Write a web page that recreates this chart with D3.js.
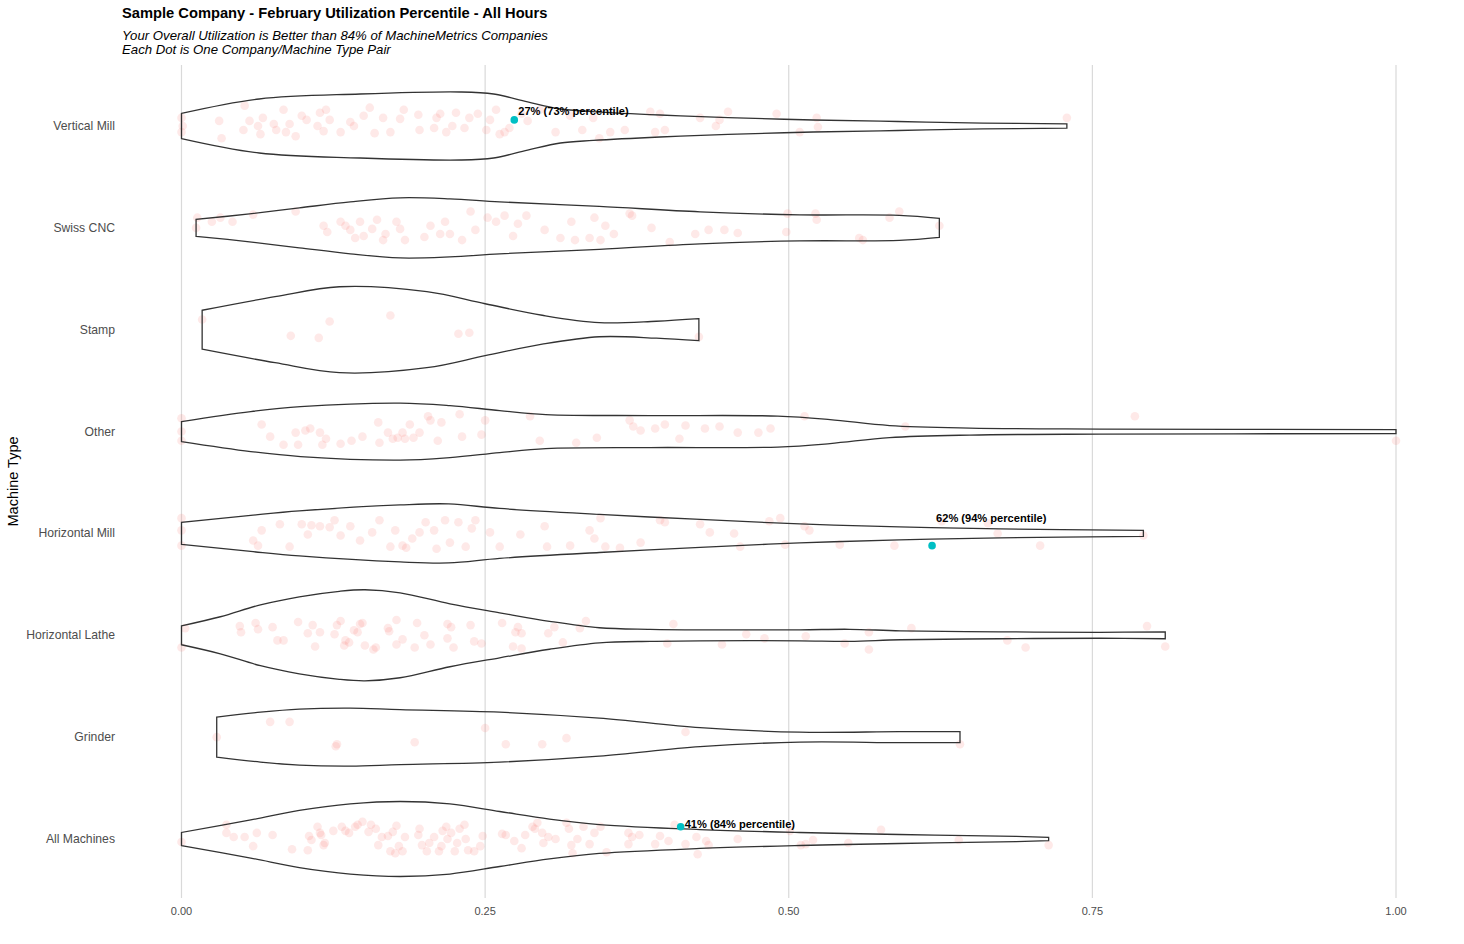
<!DOCTYPE html>
<html>
<head>
<meta charset="utf-8">
<script src="https://cdn.jsdelivr.net/npm/d3@7"></script>
<style>
  html, body { margin: 0; padding: 0; background: #ffffff; }
  svg { display: block; font-family: "Liberation Sans", Arial, sans-serif; }
</style>
</head>
<body>
<svg id="chart" width="1464" height="944"></svg>
<script>
// ---------------- DATA ----------------
const categories = ["Vertical Mill", "Swiss CNC", "Stamp", "Other", "Horizontal Mill", "Horizontal Lathe", "Grinder", "All Machines"];
const xTicks = [0, 0.25, 0.5, 0.75, 1.0];
const xTickLabels = ["0.00", "0.25", "0.50", "0.75", "1.00"];

const titleText = "Sample Company - February Utilization Percentile - All Hours";
const subtitleLines = ["Your Overall Utilization is Better than 84% of MachineMetrics Companies", "Each Dot is One Company/Machine Type Pair"];
const yAxisTitle = "Machine Type";

// violin outlines: utilization grid and half-width (fraction of category spacing)
const vmGrid  = [0, 0.064, 0.147, 0.23, 0.257, 0.285, 0.312, 0.339, 0.394, 0.45, 0.52, 0.59, 0.66, 0.729];
const vmWidth = [0.123, 0.265, 0.314, 0.334, 0.314, 0.236, 0.167, 0.142, 0.108, 0.083, 0.059, 0.044, 0.029, 0.020];
const swGrid  = [0.012, 0.056, 0.097, 0.139, 0.180, 0.221, 0.262, 0.344, 0.427, 0.509, 0.591, 0.624];
const swWidth = [0.083, 0.137, 0.196, 0.255, 0.295, 0.285, 0.255, 0.211, 0.157, 0.128, 0.123, 0.093];
const stGrid  = [0.017, 0.077, 0.130, 0.202, 0.250, 0.297, 0.344, 0.391, 0.426];
const stWidth = [0.191, 0.324, 0.422, 0.373, 0.255, 0.142, 0.069, 0.083, 0.108];
const otGrid  = [0, 0.057, 0.098, 0.18, 0.221, 0.262, 0.3, 0.386, 0.491, 0.534, 0.583, 0.649, 0.756, 1.0];
const otWidth = [0.098, 0.196, 0.245, 0.280, 0.255, 0.206, 0.167, 0.157, 0.152, 0.118, 0.059, 0.034, 0.025, 0.020];
const hmGrid  = [0, 0.057, 0.097, 0.18, 0.22, 0.262, 0.344, 0.427, 0.509, 0.591, 0.674, 0.792];
const hmWidth = [0.108, 0.177, 0.221, 0.280, 0.290, 0.245, 0.187, 0.137, 0.093, 0.064, 0.044, 0.029];
const hlGrid  = [0, 0.032, 0.065, 0.097, 0.13, 0.151, 0.18, 0.221, 0.262, 0.303, 0.344, 0.386, 0.427, 0.509, 0.55, 0.592, 0.674, 0.756, 0.81];
const hlWidth = [0.093, 0.182, 0.299, 0.378, 0.432, 0.447, 0.417, 0.309, 0.221, 0.137, 0.074, 0.059, 0.054, 0.054, 0.059, 0.044, 0.034, 0.029, 0.034];
const grGrid  = [0.029, 0.065, 0.097, 0.139, 0.18, 0.262, 0.344, 0.427, 0.509, 0.591, 0.641];
const grWidth = [0.196, 0.245, 0.275, 0.285, 0.270, 0.245, 0.187, 0.093, 0.049, 0.054, 0.054];
const amGrid  = [0, 0.057, 0.097, 0.139, 0.18, 0.221, 0.262, 0.303, 0.344, 0.427, 0.509, 0.591, 0.674, 0.714];
const amWidth = [0.064, 0.187, 0.280, 0.344, 0.368, 0.344, 0.270, 0.196, 0.142, 0.093, 0.064, 0.044, 0.029, 0.015];

// company points: [utilization, vertical jitter (fraction of category spacing)]
const vmPoints = [[0,-0.08],[0.001,0],[0,0.06],[0.031,-0.05],[0.033,0.12],[0.051,0.04],[0.052,-0.2],[0.056,-0.05],[0.063,0],[0.065,0.08],[0.067,-0.08],[0.076,-0.02],[0.078,0.04],[0.084,-0.16],[0.086,0.06],[0.089,-0.02],[0.094,0.1],[0.099,-0.1],[0.103,-0.06],[0.112,0],[0.114,-0.13],[0.117,0.05],[0.119,-0.16],[0.122,-0.06],[0.131,0.06],[0.139,-0.04],[0.142,0],[0.150,-0.1],[0.155,-0.18],[0.159,0.07],[0.166,-0.08],[0.172,0.06],[0.180,-0.07],[0.183,-0.16],[0.195,-0.11],[0.196,0.04],[0.208,0.02],[0.210,-0.08],[0.213,-0.12],[0.218,0.06],[0.223,0],[0.226,-0.13],[0.233,0.02],[0.237,-0.08],[0.244,-0.12],[0.251,0.04],[0.254,-0.06],[0.259,-0.16],[0.262,0.08],[0.266,0.06],[0.270,0.02],[0.280,-0.12],[0.285,-0.05],[0.295,-0.16],[0.308,0.06],[0.320,-0.1],[0.330,0.04],[0.339,-0.08],[0.344,0.12],[0.353,0.06],[0.365,0.04],[0.386,-0.14],[0.390,0.06],[0.394,-0.12],[0.398,0.04],[0.427,-0.08],[0.440,0],[0.443,-0.06],[0.450,-0.14],[0.490,-0.12],[0.509,0.06],[0.523,-0.08],[0.524,0.01],[0.729,-0.08]];
const swPoints = [[0.012,0],[0.013,-0.1],[0.025,-0.06],[0.032,-0.1],[0.042,-0.06],[0.059,-0.13],[0.094,-0.16],[0.117,-0.02],[0.120,0.04],[0.131,-0.06],[0.135,-0.02],[0.139,0.02],[0.143,0.1],[0.147,-0.06],[0.150,0.08],[0.157,0.01],[0.161,-0.08],[0.166,0.12],[0.168,0.06],[0.177,-0.06],[0.180,0.01],[0.184,0.12],[0.200,0.09],[0.205,-0.02],[0.213,0.06],[0.217,-0.06],[0.221,0.06],[0.231,0.12],[0.238,-0.16],[0.242,0.02],[0.252,-0.1],[0.259,-0.06],[0.266,-0.12],[0.273,0.08],[0.277,-0.04],[0.284,-0.12],[0.299,0.02],[0.312,0.1],[0.321,-0.06],[0.324,0.12],[0.336,0.1],[0.340,-0.1],[0.345,0.12],[0.349,-0.02],[0.356,0.06],[0.369,-0.14],[0.371,-0.12],[0.387,0],[0.402,0.14],[0.423,0.06],[0.434,0.02],[0.447,0.02],[0.458,0.05],[0.498,0.04],[0.499,-0.14],[0.522,-0.14],[0.523,-0.08],[0.558,0.1],[0.561,0.12],[0.583,-0.1],[0.591,-0.16],[0.624,-0.02]];
const stPoints = [[0.017,-0.1],[0.090,0.06],[0.113,0.08],[0.122,-0.08],[0.172,-0.14],[0.228,0.04],[0.237,0.03],[0.426,0.07]];
const otPoints = [[0,-0.13],[0,0],[0,0.09],[0.066,-0.07],[0.073,0.05],[0.084,0.13],[0.094,0.01],[0.096,0.13],[0.102,-0.01],[0.106,-0.03],[0.114,0.01],[0.116,0.13],[0.119,0.07],[0.131,0.12],[0.140,0.09],[0.149,0.05],[0.162,-0.09],[0.163,0.11],[0.170,0.01],[0.174,0.07],[0.178,0.06],[0.182,0.01],[0.184,0.07],[0.188,-0.07],[0.191,0.06],[0.196,0.01],[0.203,-0.15],[0.205,-0.11],[0.211,0.09],[0.214,-0.09],[0.229,-0.17],[0.231,0.05],[0.247,0.03],[0.250,-0.11],[0.287,-0.15],[0.295,0.09],[0.325,0.11],[0.342,0.06],[0.369,-0.11],[0.372,-0.05],[0.378,-0.01],[0.390,-0.03],[0.398,-0.07],[0.410,0.07],[0.415,-0.06],[0.431,-0.03],[0.443,-0.05],[0.458,0.01],[0.475,0.01],[0.485,-0.03],[0.513,-0.15],[0.596,-0.05],[0.785,-0.15],[1.0,0.09]];
const hmPoints = [[0,-0.15],[0,-0.03],[0,0.12],[0.059,0.07],[0.063,0.12],[0.066,-0.03],[0.081,-0.09],[0.089,0.13],[0.099,-0.09],[0.104,0.01],[0.107,-0.08],[0.114,-0.07],[0.122,-0.06],[0.126,-0.13],[0.131,0.02],[0.139,-0.07],[0.147,0.07],[0.157,-0.01],[0.163,-0.13],[0.172,0.13],[0.176,-0.03],[0.182,0.12],[0.185,0.14],[0.190,0.05],[0.196,-0.01],[0.201,-0.11],[0.208,-0.03],[0.210,0.15],[0.217,-0.13],[0.221,0.09],[0.228,-0.11],[0.234,0.13],[0.239,-0.05],[0.242,-0.13],[0.254,-0.01],[0.262,0.13],[0.279,0.01],[0.299,-0.07],[0.301,0.13],[0.320,0.12],[0.336,-0.03],[0.340,0.05],[0.345,-0.15],[0.349,0.13],[0.361,0.14],[0.378,0.09],[0.394,-0.13],[0.398,-0.11],[0.427,-0.09],[0.435,-0.01],[0.455,0],[0.460,0.13],[0.484,-0.12],[0.493,-0.15],[0.497,0.11],[0.513,-0.07],[0.517,-0.03],[0.542,0.11],[0.587,0.12],[0.626,-0.12],[0.664,-0.1],[0.672,0],[0.707,0.12],[0.792,0.02]];
const hlPoints = [[0,0.12],[0.003,-0.07],[0.048,-0.09],[0.049,-0.03],[0.061,-0.12],[0.063,-0.06],[0.075,-0.08],[0.079,0.05],[0.084,0.05],[0.096,-0.13],[0.104,-0.02],[0.108,-0.1],[0.110,0.11],[0.114,-0.03],[0.126,-0.01],[0.128,-0.1],[0.131,-0.14],[0.134,0.1],[0.135,0.05],[0.138,0.07],[0.142,-0.05],[0.145,-0.03],[0.147,-0.11],[0.149,-0.12],[0.151,0.1],[0.158,0.14],[0.160,0.12],[0.170,-0.07],[0.171,-0.04],[0.177,-0.15],[0.177,0.09],[0.182,0.04],[0.192,0.12],[0.194,-0.12],[0.200,0],[0.205,0.09],[0.219,0.03],[0.219,-0.11],[0.222,-0.08],[0.224,0.12],[0.238,-0.1],[0.241,0.06],[0.247,0.08],[0.264,-0.12],[0.273,0.11],[0.280,0.13],[0.275,-0.03],[0.277,-0.08],[0.280,-0.02],[0.302,-0.02],[0.307,-0.08],[0.314,0.07],[0.328,-0.07],[0.333,-0.14],[0.400,0.08],[0.405,-0.11],[0.445,0.09],[0.465,-0.01],[0.480,0.03],[0.514,0.01],[0.546,0.08],[0.566,0.14],[0.566,-0.03],[0.601,-0.07],[0.680,0.05],[0.695,0.12],[0.795,-0.09],[0.810,0.11]];
const grPoints = [[0.029,0],[0.073,-0.15],[0.089,-0.15],[0.127,0.09],[0.128,0.07],[0.192,0.05],[0.250,-0.09],[0.267,0.07],[0.297,0.07],[0.317,0.01],[0.415,-0.05],[0.641,0.07]];
const amPoints = [[0,0.03],[0.037,-0.14],[0.037,-0.06],[0.043,-0.02],[0.052,-0.02],[0.059,0.07],[0.062,-0.06],[0.075,-0.04],[0.091,0.1],[0.104,0.11],[0.105,-0.03],[0.107,0.01],[0.112,-0.12],[0.114,-0.06],[0.115,-0.04],[0.117,0.06],[0.118,0.04],[0.125,-0.08],[0.132,-0.12],[0.135,-0.08],[0.138,-0.06],[0.143,-0.12],[0.145,-0.14],[0.149,-0.17],[0.154,-0.07],[0.156,-0.14],[0.160,-0.1],[0.162,0.06],[0.165,-0.02],[0.170,-0.03],[0.172,0.12],[0.174,-0.07],[0.176,0.14],[0.177,-0.13],[0.179,0.07],[0.182,0.12],[0.184,-0.02],[0.195,-0.04],[0.196,-0.1],[0.198,0.06],[0.202,0.12],[0.204,0.04],[0.208,-0.02],[0.212,0.12],[0.214,0.07],[0.215,-0.08],[0.218,-0.12],[0.219,0],[0.222,-0.06],[0.225,0.12],[0.227,0.04],[0.229,-0.1],[0.233,-0.14],[0.234,0],[0.236,0.11],[0.241,0.12],[0.246,0.07],[0.248,-0.03],[0.264,-0.05],[0.267,-0.04],[0.274,0.02],[0.280,0.09],[0.283,-0.04],[0.289,-0.12],[0.291,-0.1],[0.293,-0.16],[0.297,-0.06],[0.298,0.04],[0.302,-0.02],[0.308,0],[0.317,-0.16],[0.319,-0.1],[0.321,0.06],[0.322,0.14],[0.326,0],[0.331,-0.12],[0.336,0.05],[0.340,-0.06],[0.345,-0.12],[0.350,0.13],[0.368,-0.06],[0.368,0.05],[0.371,-0.02],[0.377,-0.04],[0.390,0.05],[0.394,-0.03],[0.401,0.02],[0.406,-0.14],[0.415,0.05],[0.424,-0.02],[0.425,0.15],[0.432,0.02],[0.434,0.06],[0.458,0],[0.501,-0.08],[0.510,0.06],[0.514,0.05],[0.520,0.01],[0.549,0.04],[0.576,-0.09],[0.640,0.01],[0.714,0.06]];

// "Sample Company" highlighted points and labels
const highlightCategories = ["Vertical Mill", "Horizontal Mill", "All Machines"];
const highlightValues = [0.274, 0.618, 0.411];
const highlightJitter = [-0.06, 0.12, -0.12];
const highlightLabels = ["27% (73% percentile)", "62% (94% percentile)", "41% (84% percentile)"];

// build table used for drawing
const violins = [
  {cat: "Vertical Mill", grid: vmGrid, width: vmWidth, points: vmPoints},
  {cat: "Swiss CNC", grid: swGrid, width: swWidth, points: swPoints},
  {cat: "Stamp", grid: stGrid, width: stWidth, points: stPoints},
  {cat: "Other", grid: otGrid, width: otWidth, points: otPoints},
  {cat: "Horizontal Mill", grid: hmGrid, width: hmWidth, points: hmPoints},
  {cat: "Horizontal Lathe", grid: hlGrid, width: hlWidth, points: hlPoints},
  {cat: "Grinder", grid: grGrid, width: grWidth, points: grPoints},
  {cat: "All Machines", grid: amGrid, width: amWidth, points: amPoints}
];

// ---------------- DRAW ----------------
const svg = d3.select("#chart");
const x = d3.scaleLinear().domain([0, 1]).range([181.5, 1396]);
const y = d3.scalePoint().domain(categories).range([126, 839]);
const step = y.step();
const panelTop = y(categories[0]) - 0.6 * step;
const panelBottom = y(categories[categories.length - 1]) + 0.58 * step;

// gridlines
svg.append("g").selectAll("line").data(xTicks).join("line")
  .attr("x1", d => x(d)).attr("x2", d => x(d))
  .attr("y1", panelTop).attr("y2", panelBottom)
  .attr("stroke", "#d9d9d9").attr("stroke-width", 1.2);

// x tick labels
svg.append("g").selectAll("text").data(xTicks).join("text")
  .attr("x", d => x(d)).attr("y", 915)
  .attr("text-anchor", "middle")
  .attr("font-size", 11).attr("fill", "#4d4d4d")
  .text((d, i) => xTickLabels[i]);

// y tick labels
svg.append("g").selectAll("text").data(categories).join("text")
  .attr("x", 115).attr("y", d => y(d) + 4)
  .attr("text-anchor", "end")
  .attr("font-size", 12.2).attr("fill", "#4d4d4d")
  .text(d => d);

// y axis title
svg.append("text")
  .attr("transform", `translate(18,${(panelTop + panelBottom) / 2}) rotate(-90)`)
  .attr("text-anchor", "middle")
  .attr("font-size", 14.5).attr("fill", "#000")
  .text(yAxisTitle);

// title + subtitle
svg.append("text").attr("x", 122).attr("y", 18)
  .attr("font-size", 14.7).attr("font-weight", "bold").attr("fill", "#000")
  .text(titleText);
svg.append("g").selectAll("text").data(subtitleLines).join("text")
  .attr("x", 122).attr("y", (d, i) => 39.5 + i * 14)
  .attr("font-size", 13.2).attr("font-style", "italic").attr("fill", "#000")
  .text(d => d);

// jittered points
const ptsG = svg.append("g");
violins.forEach(v => {
  ptsG.append("g").selectAll("circle").data(v.points).join("circle")
    .attr("cx", d => x(d[0]))
    .attr("cy", d => y(v.cat) + d[1] * step)
    .attr("r", 4.3)
    .attr("fill", "#F8766D")
    .attr("fill-opacity", 0.16);
});

// violins
const area = d3.area()
  .curve(d3.curveCatmullRom.alpha(0.5));
svg.append("g").selectAll("path").data(violins).join("path")
  .attr("d", v => {
    const cy = y(v.cat);
    const rows = v.grid.map((g, i) => [g, v.width[i]]);
    return area
      .x(d => x(d[0]))
      .y0(d => cy - d[1] * step)
      .y1(d => cy + d[1] * step)(rows);
  })
  .attr("fill", "none")
  .attr("stroke", "#333333")
  .attr("stroke-width", 1.3);

// highlighted company points
const hi = highlightCategories.map((c, i) => ({cat: c, v: highlightValues[i], j: highlightJitter[i], label: highlightLabels[i]}));
svg.append("g").selectAll("circle").data(hi).join("circle")
  .attr("cx", d => x(d.v))
  .attr("cy", d => y(d.cat) + d.j * step)
  .attr("r", 3.8)
  .attr("fill", "#00BFC4");
svg.append("g").selectAll("text").data(hi).join("text")
  .attr("x", d => x(d.v) + 4)
  .attr("y", d => y(d.cat) - 15 + 4)
  .attr("font-size", 11.1).attr("font-weight", "bold").attr("fill", "#000")
  .text(d => d.label);
</script>
</body>
</html>
